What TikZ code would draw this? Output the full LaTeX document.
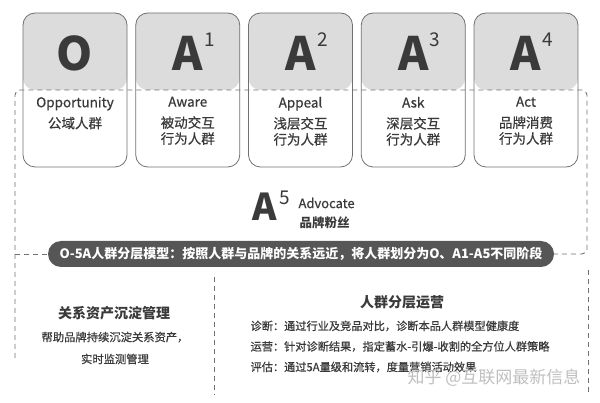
\documentclass[tikz,border=0pt]{standalone}
\usepackage{fontspec}
\setmainfont{Noto Sans CJK SC}
\newfontfamily\midfont[FakeBold=0.7]{Noto Sans CJK SC}
\usetikzlibrary{positioning}
\definecolor{boxgray}{HTML}{DCDCDC}
\definecolor{linegray}{HTML}{707070}
\definecolor{inkgray}{HTML}{3A3A3A}
\definecolor{pillgray}{HTML}{565656}
\tikzstyle{stage} = [rectangle, rounded corners=12pt, minimum width=104pt, minimum height=154pt, draw=linegray, line width=0.8pt, path picture={\fill[boxgray] (path picture bounding box.north west) rectangle (path picture bounding box.east);}]
\tikzstyle{bigletter} = [inner sep=0pt, text=inkgray, font=\fontsize{46}{46}\selectfont\bfseries]
\tikzstyle{supnum} = [inner sep=0pt, text=inkgray, font=\fontsize{19}{19}\selectfont]
\tikzstyle{stagetext} = [anchor=north, align=center, inner sep=0pt, text=inkgray, font=\fontsize{13.5}{16}\midfont]
\tikzstyle{dashline} = [draw=linegray, dash pattern=on 5pt off 4pt, line width=0.9pt]
\tikzstyle{pill} = [rectangle, rounded corners=13pt, fill=pillgray, text=white, minimum width=506pt, minimum height=26pt, inner sep=0pt, font=\fontsize{13}{13}\selectfont\bfseries]

\begin{document}
\begin{tikzpicture}[x=1pt, y=-1pt, node distance=112.75pt]
        \useasboundingbox (0,0) rectangle (600,403);

        % five stage boxes
        \node (o) [stage] at (75,90) {};
        \node (a1) [stage, right of=o] {};
        \node (a2) [stage, right of=a1] {};
        \node (a3) [stage, right of=a2] {};
        \node (a4) [stage, right of=a3] {};

        \node (ltro) [bigletter] at ([yshift=-40.5pt]o.north) {O};
        \node (ltra1) [bigletter] at ([yshift=-40.5pt]a1.north) {A};
        \node (ltra2) [bigletter] at ([yshift=-40.5pt]a2.north) {A};
        \node (ltra3) [bigletter] at ([yshift=-40.5pt]a3.north) {A};
        \node (ltra4) [bigletter] at ([yshift=-40.5pt]a4.north) {A};
        \node (supa1) [supnum, anchor=north west] at ([xshift=1pt, yshift=3pt]ltra1.north east) {1};
        \node (supa2) [supnum, anchor=north west] at ([xshift=1pt, yshift=3pt]ltra2.north east) {2};
        \node (supa3) [supnum, anchor=north west] at ([xshift=1pt, yshift=3pt]ltra3.north east) {3};
        \node (supa4) [supnum, anchor=north west] at ([xshift=1pt, yshift=3pt]ltra4.north east) {4};

        \node (txto) [stagetext] at ([yshift=-84pt]o.north) {Opportunity\\[5pt]公域人群};
        \node (txta1) [stagetext] at ([yshift=-84pt]a1.north) {Aware\\[5pt]被动交互\\行为人群};
        \node (txta2) [stagetext] at ([yshift=-84pt]a2.north) {Appeal\\[5pt]浅层交互\\行为人群};
        \node (txta3) [stagetext] at ([yshift=-84pt]a3.north) {Ask\\[5pt]深层交互\\行为人群};
        \node (txta4) [stagetext] at ([yshift=-84pt]a4.north) {Act\\[5pt]品牌消费\\行为人群};

        % advocate
        \node (a5) [bigletter, font=\fontsize{37}{37}\selectfont\bfseries] at (265,206.5) {A};
        \node (supa5) [supnum, anchor=north west] at ([xshift=2pt, yshift=2pt]a5.north east) {5};
        \node (adv) [anchor=west, text=inkgray, font=\fontsize{13}{13}\midfont] at (295,203) {Advocate};
        \node (advcn) [anchor=west, text=inkgray, font=\fontsize{12.5}{12.5}\selectfont\bfseries] at (296,223) {品牌粉丝};

        % summary bar
        \node (pill) [pill] at (301,254) {O-5A人群分层模型：按照人群与品牌的关系远近，将人群划分为O、A1-A5不同阶段};

        % dashed frame
        \coordinate (lowl) at (15,358);
        \coordinate (topl) at (15,90);
        \coordinate (topr) at (587,90);
        \coordinate (barr) at (587,254);
        \coordinate (barl) at (15,254);
        \draw [dashline, rounded corners=5pt] (lowl) -- (topl) -- (topr) -- (barr) -- (pill.east);
        \draw [dashline] (barl) -- (pill.west);
        \coordinate (midt) at (214,277);
        \coordinate (midb) at (214,395);
        \coordinate (rgtt) at (588,270);
        \coordinate (rgtb) at (588,395);
        \draw [dashline] (midt) -- (midb);
        \draw [dashline] (rgtt) -- (rgtb);

        % bottom texts
        \node (assethead) [text=inkgray, font=\fontsize{14}{14}\selectfont\bfseries] at (114,313) {关系资产沉淀管理};
        \node (assettext) [align=center, text=inkgray, font=\fontsize{11.3}{22}\midfont] at (115,348) {帮助品牌持续沉淀关系资产，\\实时监测管理};
        \node (opshead) [text=inkgray, font=\fontsize{14}{14}\selectfont\bfseries] at (402,302) {人群分层运营};
        \node (opstext) [anchor=west, align=left, text=inkgray, font=\fontsize{11.2}{20.5}\midfont] at (247,346.5) {诊断：通过行业及竞品对比，诊断本品人群模型健康度\\运营：针对诊断结果，指定蓄水-引爆-收割的全方位人群策略\\评估：通过5A量级和流转，度量营销活动效果};

        \node (mark) [text=black!25, font=\fontsize{17}{17}\selectfont] at (494,378) {知乎 @互联网最新信息};
\end{tikzpicture}
\end{document}
